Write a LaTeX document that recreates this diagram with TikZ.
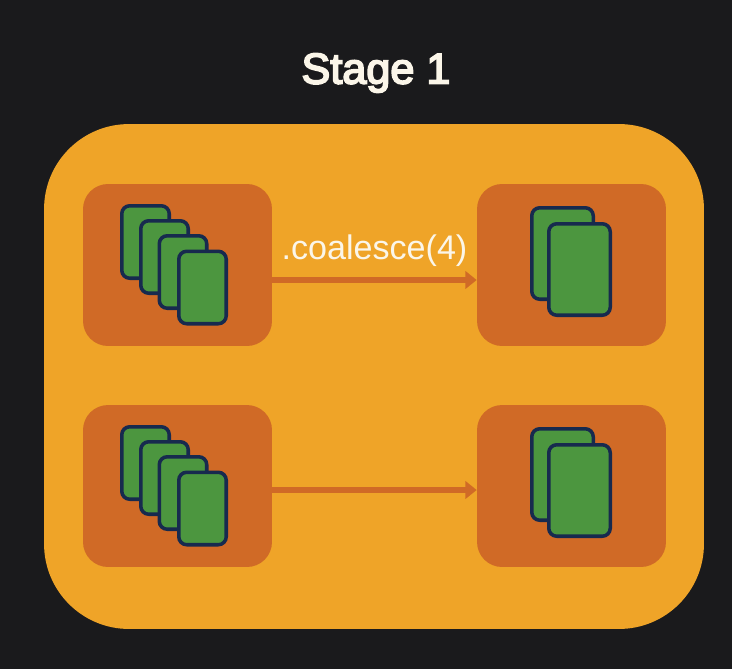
\documentclass[tikz,border=0pt]{standalone}
\usepackage{fontspec}
\setmainfont{Liberation Sans}
\newfontfamily\titlefont[FakeBold=4]{Liberation Sans}
\usetikzlibrary{arrows.meta}
\definecolor{bgdark}{HTML}{1A1A1C}
\definecolor{stageorange}{HTML}{EFA428}
\definecolor{boxorange}{HTML}{D06A26}
\definecolor{cardgreen}{HTML}{4C963F}
\definecolor{cardline}{HTML}{172A4E}
\definecolor{labelcream}{HTML}{FBF6E9}
\tikzset{
  stagebox/.style={fill=stageorange,rounded corners=1.7cm,minimum width=13.2cm,minimum height=10.1cm,inner sep=0pt},
  executor/.style={fill=boxorange,rounded corners=0.5cm,minimum width=3.78cm,minimum height=3.24cm,inner sep=0pt},
  card/.style={draw=cardline,fill=cardgreen,line width=2pt,rounded corners=0.16cm,minimum width=0.95cm,minimum height=1.45cm,inner sep=0pt},
  bigcard/.style={card,minimum width=1.23cm,minimum height=1.83cm},
  flow/.style={boxorange,line width=3.2pt,-{Triangle[length=6.5pt,width=10pt]}},
  label/.style={text=labelcream,inner sep=0pt}
}
\begin{document}
\begin{tikzpicture}[x=0.02cm,y=-0.02cm]
\fill[bgdark](0,0)rectangle(732,669);
\node[label,font=\fontsize{24.6}{28}\selectfont\titlefont](title) at (376,73){Stage 1};
\node[stagebox](stage) at (374,376.5){};
\node[executor](srcA) at (177.5,265){};
\node[executor](dstA) at (571.5,265){};
\node[executor](srcB) at (177.5,486){};
\node[executor](dstB) at (571.5,486){};
% four small partitions on the left, two large on the right
\foreach \row/\dy in {A/0,B/221}{
  \node[card](card\row1) at (145.5,242+\dy){};
  \node[card](card\row2) at (164.5,257+\dy){};
  \node[card](card\row3) at (183,272+\dy){};
  \node[card](card\row4) at (202.5,287.5+\dy){};
  \node[bigcard](big\row1) at (562.5,253.5+\dy){};
  \node[bigcard](big\row2) at (579.5,269.5+\dy){};
}
\draw[flow]([yshift=-0.3cm]srcA.east)--([yshift=-0.3cm]dstA.west);
\draw[flow]([yshift=-0.08cm]srcB.east)--([yshift=-0.08cm]dstB.west);
\node[label,font=\fontsize{19.4}{24}\selectfont](coalesce) at (374.5,251){.coalesce(4)};
\end{tikzpicture}
\end{document}
